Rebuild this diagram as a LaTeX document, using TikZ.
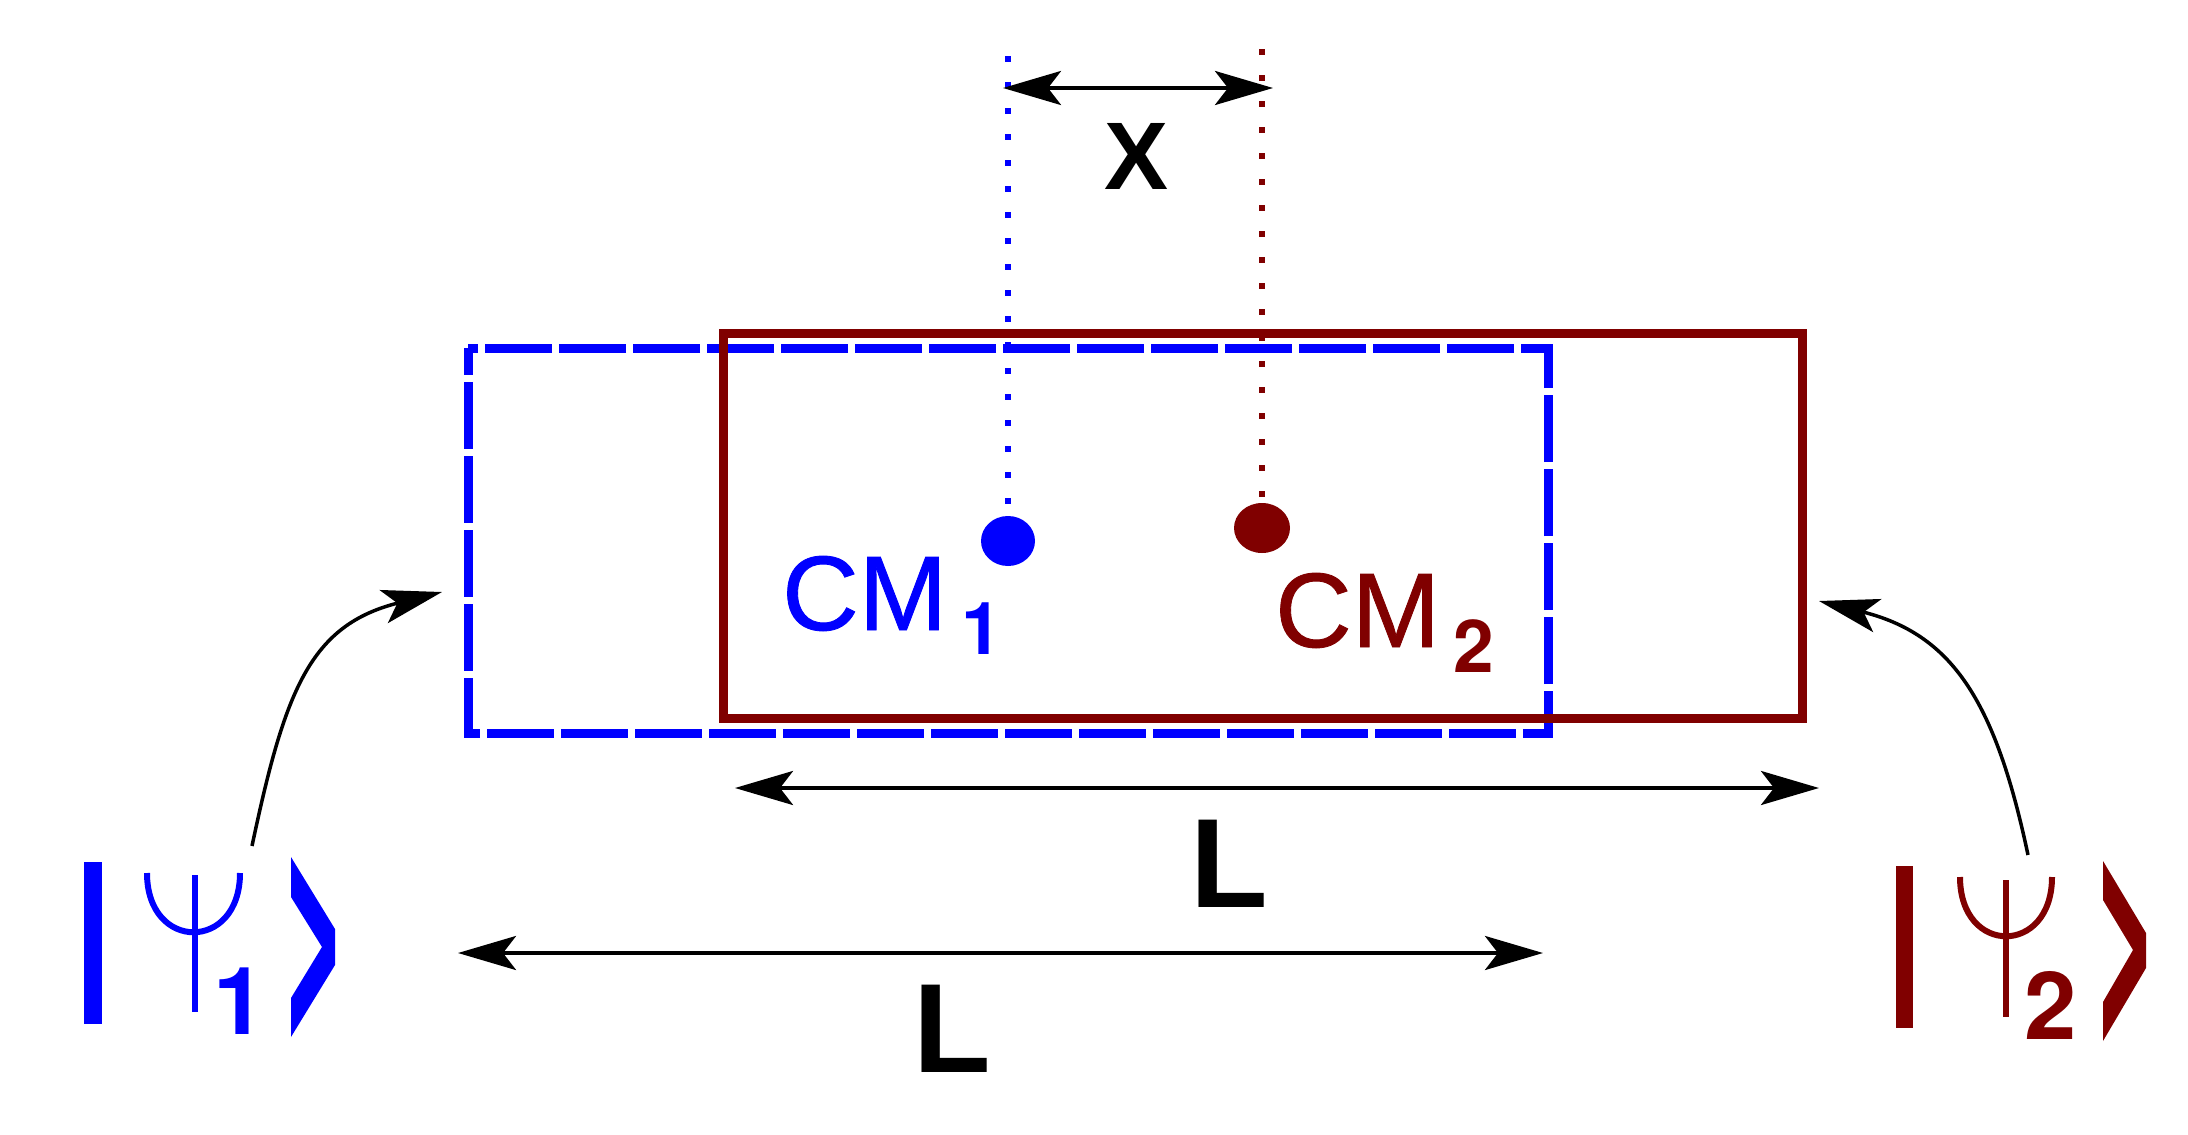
\documentclass[tikz,border=0pt]{standalone}
\usepackage{fontspec}
\setmainfont{Liberation Sans}
\newfontfamily\cmfont[FakeBold=0.8]{Liberation Sans}
\newfontfamily\subfont{TeX Gyre Heros}
\usetikzlibrary{arrows.meta,shapes.geometric}
\definecolor{cblue}{RGB}{0,0,255}
\definecolor{cred}{RGB}{128,0,0}
\begin{document}
\begin{tikzpicture}[x=1pt,y=-1pt,
  dimline/.style={line width=4pt,{Stealth[length=58pt,width=34pt,inset=13pt]}-{Stealth[length=58pt,width=34pt,inset=13pt]}},
  bendarrow/.style={line width=3.5pt,-{Stealth[length=60pt,width=34pt,inset=14pt]}},
  dotline/.style={line width=6pt,dash pattern=on 6pt off 20pt},
  cmdot/.style={ellipse,inner sep=0,minimum width=54pt,minimum height=50pt},
  lbl/.style={inner sep=0,anchor=base west},
  bigreg/.style={font=\fontsize{106}{106}\selectfont\cmfont},
  subbold/.style={font=\fontsize{73}{73}\selectfont\subfont\bfseries},
  ketsub/.style={font=\fontsize{94}{94}\selectfont\subfont\bfseries},
  dimlbl/.style={inner sep=0,font=\fontsize{127}{127}\selectfont\bfseries},
  psistroke/.style={line width=6pt}
]
\useasboundingbox (0,0) rectangle (2188,1135);

% boxes
\draw[cblue,line width=9pt,dash pattern=on 67pt off 7pt,dash phase=40pt] (468,348) rectangle (1548,733);
\draw[cred,line width=9pt] (723,333) rectangle (1802,718);

% centres of mass
\node[cmdot,fill=cblue] (dot1) at (1008,541) {};
\node[cmdot,fill=cred,minimum width=56pt] (dot2) at (1262,528) {};
\coordinate (top1) at (1008,56);
\coordinate (top2) at (1262,49);
\draw[cblue,dotline] (top1) -- (dot1.north);
\draw[cred,dotline] (top2) -- (dot2.north);

\node[lbl,bigreg,text=cblue] (cm1) at (782,630) {CM};
\node[lbl,subbold,text=cblue] (cm1s) at (961,654) {1};
\node[lbl,bigreg,text=cred] (cm2) at (1275,647) {CM};
\node[lbl,subbold,text=cred] (cm2s) at (1453,672) {2};

% x dimension
\coordinate (xl) at (1003,88);
\coordinate (xr) at (1273,88);
\draw[dimline] (xl) -- (xr);
\node[inner sep=0,anchor=base,font=\fontsize{96}{96}\selectfont\bfseries] (xlab) at (1137,189) {X};

% L dimensions
\coordinate (la) at (735,788);
\coordinate (lb) at (1819,788);
\draw[dimline] (la) -- (lb);
\node[dimlbl,anchor=base west] (l1) at (1190,907) {L};
\coordinate (lc) at (458,953);
\coordinate (ld) at (1543,953);
\draw[dimline] (lc) -- (ld);
\node[dimlbl,anchor=base west] (l2) at (913,1072) {L};

% ket 1
\fill[cblue] (84,862) rectangle (102,1024);
\draw[cblue,psistroke] (147,873) .. controls (147,952) and (240,952) .. (240,873);
\draw[cblue,psistroke] (195,875) -- (195,1012);
\node[lbl,ketsub,text=cblue] (k1s) at (213,1034) {1};
\fill[cblue] (291,857) -- (335,929) -- (335,965) -- (291,1037) -- (291,998) -- (322,947) -- (291,897) -- cycle;
\coordinate (ket1) at (252,846);

% ket 2
\fill[cred] (1896,866) rectangle (1913,1028);
\draw[cred,psistroke] (1960,877) .. controls (1960,956) and (2052,956) .. (2052,877);
\draw[cred,psistroke] (2006,880) -- (2006,1017);
\node[lbl,ketsub,text=cred] (k2s) at (2024,1039) {2};
\fill[cred] (2103,861) -- (2146,933) -- (2146,968) -- (2103,1041) -- (2103,1002) -- (2133,950) -- (2103,900) -- cycle;
\coordinate (ket2) at (2028,855);

% bent arrows
\coordinate (t1) at (442,592);
\coordinate (t2) at (1819,601);
\draw[bendarrow] (ket1) .. controls (285,690) and (310,625) .. (t1);
\draw[bendarrow] (ket2) .. controls (1995,699) and (1951,634) .. (t2);
\end{tikzpicture}
\end{document}
